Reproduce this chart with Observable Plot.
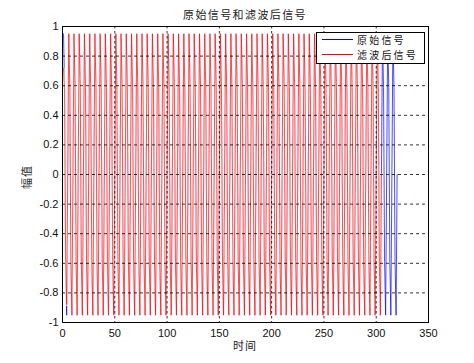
<!DOCTYPE html>
<html>
<head>
<meta charset="utf-8">
<script src="https://cdn.jsdelivr.net/npm/d3@7"></script>
<script src="https://cdn.jsdelivr.net/npm/@observablehq/plot@0.6"></script>
<style>
  html, body { margin: 0; padding: 0; background: #fff; }
  #wrap { position: relative; width: 474px; height: 363px; overflow: hidden; background: #fff; }
  #wrap svg { position: absolute; left: 0; top: 0; }
  .lbl { position: absolute; font-family: "Noto Sans CJK SC", sans-serif; color: #222; white-space: nowrap; line-height: 13px; }
  #title { left: 0; width: 490px; top: 8px; text-align: center; font-size: 11px; letter-spacing: 1.4px; }
  #xlabel { left: 0; width: 490px; top: 339px; text-align: center; font-size: 11px; letter-spacing: 1px; }
  #ylabel { left: 26px; top: 177px; font-size: 11px; transform: translate(-50%, -50%) rotate(-90deg); letter-spacing: 1px; }
  #legend { position: absolute; left: 316px; top: 32px; width: 107px; height: 30px; border: 1px solid #000; background: #fff; }
  .legrow { position: absolute; left: 5px; height: 14px; width: 100px; }
  .legline { position: absolute; left: 0; top: 6px; width: 31px; height: 1px; }
  .legtxt { position: absolute; display: block; left: 35px; top: 0px; height: 13px; overflow: visible; font-family: "Noto Sans CJK SC", sans-serif; font-size: 10px; line-height: 13px; letter-spacing: 2.2px; color: #111; white-space: nowrap; }
</style>
</head>
<body>
<div id="wrap">
  <div id="title" class="lbl">原始信号和滤波后信号</div>
  <div id="xlabel" class="lbl">时间</div>
  <div id="ylabel" class="lbl">幅值</div>
</div>
<script>
// Chart text
const titleText = "原始信号和滤波后信号";
const xLabel = "时间";
const yLabel = "幅值";
const seriesNames = ["原始信号", "滤波后信号"];
const seriesColors = ["#0000ff", "#ff0000"];

// Tick values
const xTicks = [0, 50, 100, 150, 200, 250, 300, 350];
const yTicks = [-1, -0.8, -0.6, -0.4, -0.2, 0, 0.2, 0.4, 0.6, 0.8, 1];

// 原始信号 (samples 1..320)
const original = [
0.951,0.588,-0.588,-0.951,0,0.951,0.588,-0.588,-0.951,0,0.951,0.588,-0.588,-0.951,0,0.951,0.588,-0.588,-0.951,0,
0.951,0.588,-0.588,-0.951,0,0.951,0.588,-0.588,-0.951,0,0.951,0.588,-0.588,-0.951,0,0.951,0.588,-0.588,-0.951,0,
0.951,0.588,-0.588,-0.951,0,0.951,0.588,-0.588,-0.951,0,0.951,0.588,-0.588,-0.951,0,0.951,0.588,-0.588,-0.951,0,
0.951,0.588,-0.588,-0.951,0,0.951,0.588,-0.588,-0.951,0,0.951,0.588,-0.588,-0.951,0,0.951,0.588,-0.588,-0.951,0,
0.951,0.588,-0.588,-0.951,0,0.951,0.588,-0.588,-0.951,0,0.951,0.588,-0.588,-0.951,0,0.951,0.588,-0.588,-0.951,0,
0.951,0.588,-0.588,-0.951,0,0.951,0.588,-0.588,-0.951,0,0.951,0.588,-0.588,-0.951,0,0.951,0.588,-0.588,-0.951,0,
0.951,0.588,-0.588,-0.951,0,0.951,0.588,-0.588,-0.951,0,0.951,0.588,-0.588,-0.951,0,0.951,0.588,-0.588,-0.951,0,
0.951,0.588,-0.588,-0.951,0,0.951,0.588,-0.588,-0.951,0,0.951,0.588,-0.588,-0.951,0,0.951,0.588,-0.588,-0.951,0,
0.951,0.588,-0.588,-0.951,0,0.951,0.588,-0.588,-0.951,0,0.951,0.588,-0.588,-0.951,0,0.951,0.588,-0.588,-0.951,0,
0.951,0.588,-0.588,-0.951,0,0.951,0.588,-0.588,-0.951,0,0.951,0.588,-0.588,-0.951,0,0.951,0.588,-0.588,-0.951,0,
0.951,0.588,-0.588,-0.951,0,0.951,0.588,-0.588,-0.951,0,0.951,0.588,-0.588,-0.951,0,0.951,0.588,-0.588,-0.951,0,
0.951,0.588,-0.588,-0.951,0,0.951,0.588,-0.588,-0.951,0,0.951,0.588,-0.588,-0.951,0,0.951,0.588,-0.588,-0.951,0,
0.951,0.588,-0.588,-0.951,0,0.951,0.588,-0.588,-0.951,0,0.951,0.588,-0.588,-0.951,0,0.951,0.588,-0.588,-0.951,0,
0.951,0.588,-0.588,-0.951,0,0.951,0.588,-0.588,-0.951,0,0.951,0.588,-0.588,-0.951,0,0.951,0.588,-0.588,-0.951,0,
0.951,0.588,-0.588,-0.951,0,0.951,0.588,-0.588,-0.951,0,0.951,0.588,-0.588,-0.951,0,0.951,0.588,-0.588,-0.951,0,
0.951,0.588,-0.588,-0.951,0,0.951,0.588,-0.588,-0.951,0,0.951,0.588,-0.588,-0.951,0,0.951,0.588,-0.588,-0.951,0
];

// 滤波后信号 (samples 1..305)
const filtered = [
0.72,0.55,-0.55,-0.88,0,
0.951,0.588,-0.588,-0.951,0,0.951,0.588,-0.588,-0.951,0,0.951,0.588,-0.588,-0.951,0,0.951,0.588,-0.588,-0.951,0,
0.951,0.588,-0.588,-0.951,0,0.951,0.588,-0.588,-0.951,0,0.951,0.588,-0.588,-0.951,0,0.951,0.588,-0.588,-0.951,0,
0.951,0.588,-0.588,-0.951,0,0.951,0.588,-0.588,-0.951,0,0.951,0.588,-0.588,-0.951,0,0.951,0.588,-0.588,-0.951,0,
0.951,0.588,-0.588,-0.951,0,0.951,0.588,-0.588,-0.951,0,0.951,0.588,-0.588,-0.951,0,0.951,0.588,-0.588,-0.951,0,
0.951,0.588,-0.588,-0.951,0,0.951,0.588,-0.588,-0.951,0,0.951,0.588,-0.588,-0.951,0,0.951,0.588,-0.588,-0.951,0,
0.951,0.588,-0.588,-0.951,0,0.951,0.588,-0.588,-0.951,0,0.951,0.588,-0.588,-0.951,0,0.951,0.588,-0.588,-0.951,0,
0.951,0.588,-0.588,-0.951,0,0.951,0.588,-0.588,-0.951,0,0.951,0.588,-0.588,-0.951,0,0.951,0.588,-0.588,-0.951,0,
0.951,0.588,-0.588,-0.951,0,0.951,0.588,-0.588,-0.951,0,0.951,0.588,-0.588,-0.951,0,0.951,0.588,-0.588,-0.951,0,
0.951,0.588,-0.588,-0.951,0,0.951,0.588,-0.588,-0.951,0,0.951,0.588,-0.588,-0.951,0,0.951,0.588,-0.588,-0.951,0,
0.951,0.588,-0.588,-0.951,0,0.951,0.588,-0.588,-0.951,0,0.951,0.588,-0.588,-0.951,0,0.951,0.588,-0.588,-0.951,0,
0.951,0.588,-0.588,-0.951,0,0.951,0.588,-0.588,-0.951,0,0.951,0.588,-0.588,-0.951,0,0.951,0.588,-0.588,-0.951,0,
0.951,0.588,-0.588,-0.951,0,0.951,0.588,-0.588,-0.951,0,0.951,0.588,-0.588,-0.951,0,0.951,0.588,-0.588,-0.951,0,
0.951,0.588,-0.588,-0.951,0,0.951,0.588,-0.588,-0.951,0,0.951,0.588,-0.588,-0.951,0,0.951,0.588,-0.588,-0.951,0,
0.951,0.588,-0.588,-0.951,0,0.951,0.588,-0.588,-0.951,0,0.951,0.588,-0.588,-0.951,0,0.951,0.588,-0.588,-0.951,0,
0.951,0.588,-0.588,-0.951,0,0.951,0.588,-0.588,-0.951,0,0.951,0.588,-0.588,-0.951,0,0.951,0.588,-0.588,-0.951,0
];

const gridX = xTicks.slice(1, -1);
const gridY = yTicks.slice(1, -1);

const chart = Plot.plot({
  width: 474,
  height: 363,
  marginTop: 26,
  marginRight: 46,
  marginBottom: 41,
  marginLeft: 62,
  style: { fontFamily: "'Liberation Sans', Arial, sans-serif", fontSize: "11px", color: "#111", background: "transparent", overflow: "visible" },
  x: { domain: [0, 350], ticks: xTicks, tickSize: 0, tickPadding: 7, label: null, tickFormat: d => String(d) },
  y: { domain: [-1, 1], ticks: yTicks, tickSize: 0, tickPadding: 4, label: null, tickFormat: d => String(d) },
  marks: [
    Plot.line(original, { x: (d, i) => i + 1, y: d => d, stroke: seriesColors[0], strokeWidth: 0.7 }),
    // white backing under the filtered line so the original does not bleed through its edges
    Plot.line(filtered, { x: (d, i) => i + 1, y: d => d, stroke: "#fff", strokeWidth: 1.8 }),
    Plot.line(filtered, { x: (d, i) => i + 1, y: d => d, stroke: seriesColors[1], strokeWidth: 0.7 }),
    Plot.ruleX(gridX, { stroke: "#000", strokeWidth: 0.8, strokeDasharray: "2.5,2.5" }),
    Plot.ruleY(gridY, { stroke: "#000", strokeWidth: 0.8, strokeDasharray: "3,3" }),
    Plot.frame({ stroke: "#000", strokeWidth: 1 })
  ]
});

const wrap = document.getElementById("wrap");
wrap.insertBefore(chart, wrap.firstChild);

// Legend (HTML overlay)
const legend = document.createElement("div");
legend.id = "legend";
seriesNames.forEach((name, i) => {
  const row = document.createElement("div");
  row.className = "legrow";
  row.style.top = (i === 0 ? 0 : 15) + "px";
  const line = document.createElement("div");
  line.className = "legline";
  line.style.backgroundColor = seriesColors[i];
  const txt = document.createElement("div");
  txt.className = "legtxt";
  txt.textContent = name;
  row.appendChild(line);
  row.appendChild(txt);
  legend.appendChild(row);
});
wrap.appendChild(legend);
</script>
</body>
</html>
